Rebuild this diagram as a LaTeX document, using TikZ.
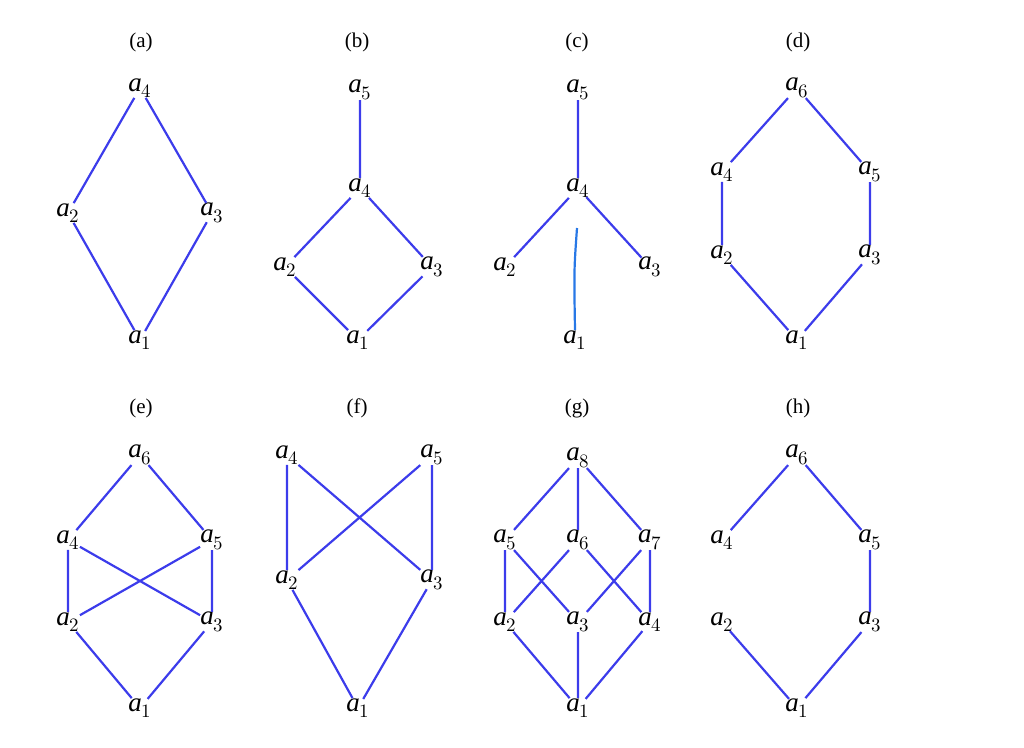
\documentclass[tikz,border=0pt]{standalone}
\usepackage{fontspec}
\setmainfont{Liberation Serif}
\usepackage{unicode-math}
\setmathfont{Latin Modern Math}
\setmathfont[range={it}]{Liberation Serif Italic}
\definecolor{edge}{RGB}{60,60,235}
\begin{document}
\begin{tikzpicture}[x=1pt,y=-1pt,
  v/.style={inner sep=0pt,font=\fontsize{27}{28}\selectfont},
  ttl/.style={font=\fontsize{21}{22}\selectfont},
  e/.style={draw=edge,line width=2.2pt,shorten <=-1pt,shorten >=-1pt}]
\useasboundingbox (0,0) rectangle (1024,747);
\newcommand\V[3]{\node[v] (#1) at (#2) {$a_{#3}$};}
% (a)
\node[ttl] (ta) at (141,42) {(a)};
\V{a4}{140,88}{4}\V{a2}{68,213}{2}\V{a3}{212,213}{3}\V{a1}{140,340}{1}
\path[e] (a4)--(a2) (a4)--(a3) (a2)--(a1) (a3)--(a1);
% (b)
\node[ttl] (tb) at (357,42) {(b)};
\V{b5}{360,90}{5}\V{b4}{360,188}{4}\V{b2}{285,267}{2}\V{b3}{432,267}{3}\V{b1}{358,340}{1}
\path[e] (b5)--(b4) (b4)--(b2) (b4)--(b3) (b2)--(b1) (b3)--(b1);
% (c)
\node[ttl] (tc) at (577,42) {(c)};
\V{c5}{578,90}{5}\V{c4}{578,188}{4}\V{c2}{505,267}{2}\V{c3}{650,267}{3}\V{c1}{575,340}{1}
\path[e] (c5)--(c4) (c4)--(c2) (c4)--(c3);
\draw[draw={rgb,255:red,40;green,120;blue,230},line width=2.2pt] (577,228) .. controls (574,270) .. (c1.north);
% (d)
\node[ttl] (td) at (798,42) {(d)};
\V{d6}{797,88}{6}\V{d4}{722,172}{4}\V{d5}{870,172}{5}\V{d2}{722,255}{2}\V{d3}{870,255}{3}\V{d1}{797,340}{1}
\path[e] (d6)--(d4) (d6)--(d5) (d4)--(d2) (d5)--(d3) (d2)--(d1) (d3)--(d1);
% (e)
\node[ttl] (te) at (141,408) {(e)};
\V{e6}{140,455}{6}\V{e4}{68,540}{4}\V{e5}{212,540}{5}\V{e2}{68,622}{2}\V{e3}{212,622}{3}\V{e1}{140,708}{1}
\path[e] (e6)--(e4) (e6)--(e5) (e4)--(e2) (e5)--(e3) (e4)--(e3) (e5)--(e2) (e2)--(e1) (e3)--(e1);
% (f)
\node[ttl] (tf) at (357,408) {(f)};
\V{f4}{287,455}{4}\V{f5}{432,455}{5}\V{f2}{287,580}{2}\V{f3}{432,580}{3}\V{f1}{358,708}{1}
\path[e] (f4)--(f2) (f5)--(f3) (f4)--(f3) (f5)--(f2) (f2)--(f1) (f3)--(f1);
% (g)
\node[ttl] (tg) at (577,408) {(g)};
\V{g8}{578,458}{8}\V{g5}{505,540}{5}\V{g6}{578,540}{6}\V{g7}{650,540}{7}
\V{g2}{505,622}{2}\V{g3}{578,622}{3}\V{g4}{650,622}{4}\V{g1}{578,708}{1}
\path[e] (g8)--(g5) (g8)--(g6) (g8)--(g7) (g5)--(g2) (g5)--(g3) (g6)--(g2) (g6)--(g4)
  (g7)--(g3) (g7)--(g4) (g2)--(g1) (g3)--(g1) (g4)--(g1);
% (h)
\node[ttl] (th) at (798,408) {(h)};
\V{h6}{797,455}{6}\V{h4}{722,540}{4}\V{h5}{870,540}{5}\V{h2}{722,622}{2}\V{h3}{870,622}{3}\V{h1}{797,708}{1}
\path[e] (h6)--(h4) (h6)--(h5) (h5)--(h3) (h3)--(h1) (h2)--(h1);
\end{tikzpicture}
\end{document}
